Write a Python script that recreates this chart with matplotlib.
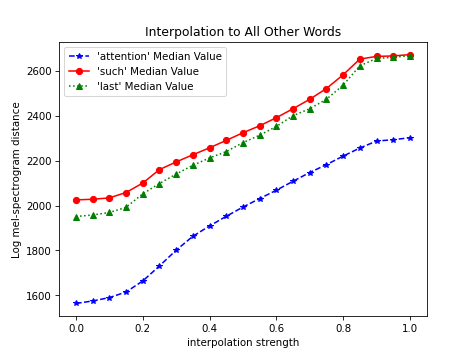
import numpy as np
import matplotlib
matplotlib.use("Agg")
import matplotlib.pyplot as plt

strength = np.round(np.arange(0, 1.0001, 0.05), 2)

attention = [1564, 1575, 1590, 1615, 1664, 1731, 1801, 1863, 1909, 1952, 1993,
             2031, 2068, 2108, 2147, 2182, 2220, 2256, 2287, 2293, 2302]
such = [2025, 2028, 2034, 2058, 2100, 2160, 2194, 2226, 2257, 2290, 2324,
        2355, 2391, 2431, 2473, 2521, 2582, 2652, 2664, 2666, 2672]
last = [1951, 1958, 1969, 1992, 2052, 2098, 2140, 2179, 2212, 2240, 2280,
        2313, 2352, 2400, 2431, 2473, 2536, 2622, 2655, 2660, 2667]

fig = plt.figure(figsize=(6.4, 4.8), dpi=474 / 6.4)
plt.plot(strength, attention, "b*--", label="'attention' Median Value")
plt.plot(strength, such, "ro-", label="'such' Median Value")
plt.plot(strength, last, "g^:", label="'last' Median Value")
plt.title("Interpolation to All Other Words")
plt.xlabel("interpolation strength")
plt.ylabel("Log mel-spectrogram distance")
plt.legend(loc="upper left")
plt.savefig("out.png")
